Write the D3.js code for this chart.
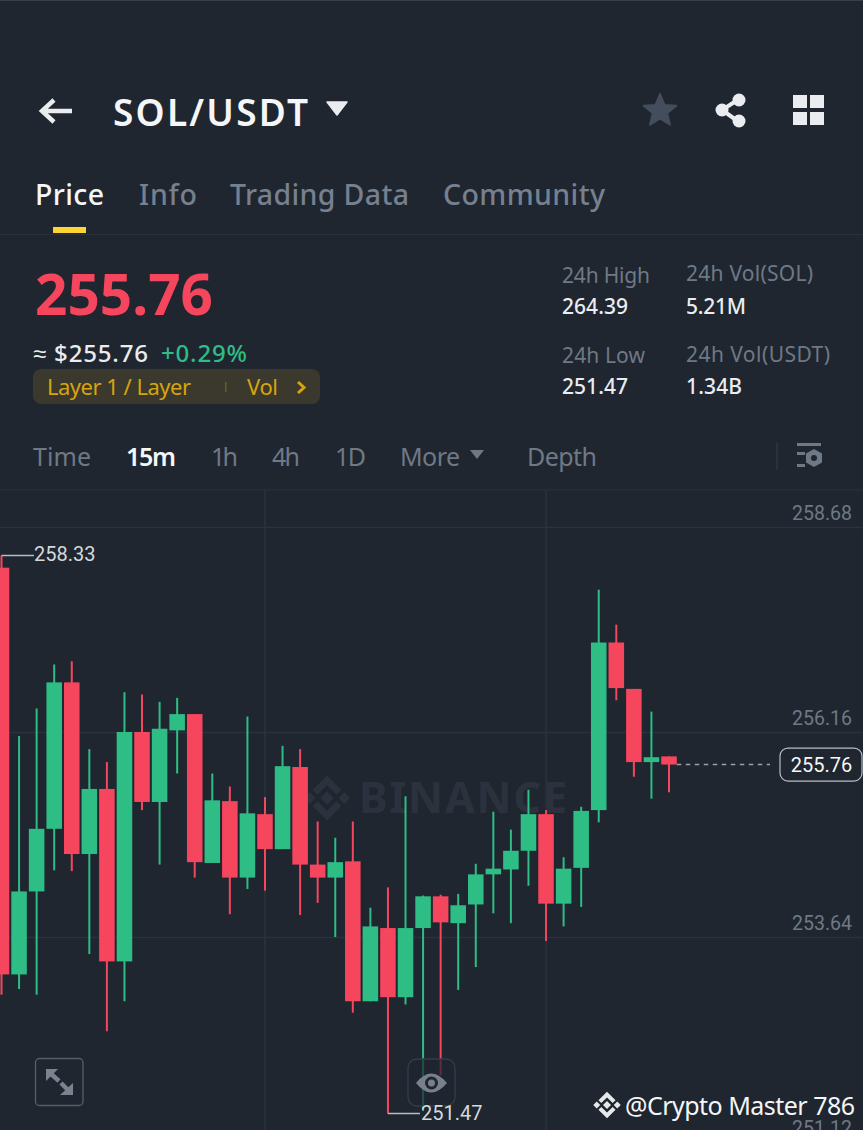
<!DOCTYPE html>
<html>
<head>
<meta charset="utf-8">
<script src="https://cdn.jsdelivr.net/npm/d3@7"></script>
<style>
  html, body { margin: 0; padding: 0; background: #1f2630; }
  svg { display: block; }
  text { font-family: "Noto Sans", sans-serif; }
  .num { font-family: Roboto, sans-serif; }
</style>
</head>
<body>
<div id="chart"></div>
<script>
// candles, left to right (15m)
const opens = [258.18, 253.18, 254.20, 254.97, 256.77, 254.66, 255.46, 253.34, 256.16, 255.30, 256.18, 256.38, 254.55, 255.31, 254.37, 255.15, 254.72, 255.73, 254.53, 254.37, 254.57, 252.85, 253.75, 252.90, 253.75, 254.14, 253.81, 254.04, 254.41, 254.47, 254.70, 255.15, 254.05, 254.49, 255.20, 257.26, 256.69, 255.79, 255.86];
const closes = [253.18, 254.20, 254.97, 256.77, 254.66, 255.46, 253.34, 256.16, 255.30, 256.20, 256.38, 254.56, 255.32, 254.37, 255.16, 254.72, 255.74, 254.53, 254.37, 254.56, 252.85, 253.77, 252.90, 253.75, 254.14, 253.82, 254.03, 254.41, 254.48, 254.70, 255.15, 254.05, 254.48, 255.19, 257.26, 256.70, 255.79, 255.85, 255.76];
const highs = [258.33, 256.11, 256.45, 256.99, 257.03, 255.95, 255.79, 256.65, 256.62, 256.53, 256.58, 256.38, 255.65, 255.49, 256.35, 255.36, 255.99, 255.95, 255.06, 254.86, 255.06, 254.00, 254.25, 255.37, 254.15, 254.16, 254.17, 254.54, 255.18, 254.96, 255.45, 255.20, 254.62, 255.24, 257.91, 257.48, 256.69, 256.41, 255.86];
const lows = [252.93, 253.00, 252.93, 254.46, 254.45, 253.43, 252.48, 252.85, 255.20, 254.53, 255.65, 254.37, 254.55, 253.92, 254.23, 254.21, 254.72, 253.91, 254.06, 253.64, 252.71, 252.85, 251.47, 252.81, 251.50, 251.94, 252.99, 253.27, 253.93, 253.81, 254.27, 253.59, 253.77, 254.01, 255.05, 256.55, 255.61, 255.34, 255.42];

const priceTicks = [258.68, 256.16, 253.64, 251.12];
const gridCandles = [15, 31];
const highPoint = { index: 0, price: 258.33 };
const lowPoint = { index: 22, price: 251.47 };
const lastPrice = 255.76;

const tabs = ["Price", "Info", "Trading Data", "Community"];
const intervals = ["Time", "15m", "1h", "4h", "1D", "More", "Depth"];
const statLabels = ["24h High", "24h Vol(SOL)", "24h Low", "24h Vol(USDT)"];
const statValues = ["264.39", "5.21M", "251.47", "1.34B"];

const W = 863, H = 1130;
const bg = "#1f2630", up = "#2ebd85", down = "#f6465d", gridColor = "#2b323d", grey = "#6f7986";

const svg = d3.select("#chart").append("svg").attr("width", W).attr("height", H);
svg.append("rect").attr("width", W).attr("height", H).attr("fill", bg);
svg.append("rect").attr("width", W).attr("height", 1).attr("fill", "#3a404b");

// len stretches the text to the width measured on the picture
function label(x, y, txt, size, fill, weight, cls, len) {
    const t = svg.append("text").attr("x", x).attr("y", y).text(txt)
        .attr("font-size", size).attr("fill", fill)
        .attr("font-weight", weight || 400).attr("class", cls || null);
    if (len) t.attr("textLength", len);
    return t;
}

// header
svg.append("path").attr("d", "M72 111H44M54 100L42 111L54 122").attr("fill", "none")
    .attr("stroke", "#eaecef").attr("stroke-width", 4.5);
label(113, 126, "SOL/USDT", 37, "#f5f6f7", 600, null, 195);
svg.append("path").attr("d", "M327 102H347L337 115Z").attr("fill", "#eaecef")
    .attr("stroke", "#eaecef").attr("stroke-width", 1.5).attr("stroke-linejoin", "round");

// star
const star = d3.range(10).map(i => {
    const r = i % 2 ? 7.5 : 17, a = -Math.PI / 2 + i * Math.PI / 5;
    return [660 + r * Math.cos(a), 111 + r * Math.sin(a)];
});
svg.append("path").attr("d", "M" + star.join("L") + "Z").attr("fill", "#434d5c")
    .attr("stroke", "#434d5c").attr("stroke-width", 2).attr("stroke-linejoin", "round");

// share
svg.append("path").attr("d", "M739 99L722 110L739 122").attr("fill", "none")
    .attr("stroke", "#eaecef").attr("stroke-width", 4);
[[739, 100], [722, 110], [739, 121]].forEach(p => {
    svg.append("circle").attr("cx", p[0]).attr("cy", p[1]).attr("r", 6.5).attr("fill", "#eaecef");
});

// grid icon
[[793, 95], [810, 95], [793, 112], [810, 112]].forEach(p => {
    svg.append("rect").attr("x", p[0]).attr("y", p[1]).attr("width", 14).attr("height", 13).attr("fill", "#eaecef");
});

// tabs
const tabX = [35, 139, 230, 443], tabLen = [69, 58, 179, 162];
tabs.forEach((t, i) => label(tabX[i], 205, t, 28.5, i === 0 ? "#f5f6f7" : "#76808f", 500, null, tabLen[i]));
svg.append("rect").attr("x", 53).attr("y", 227).attr("width", 33).attr("height", 6).attr("fill", "#fcd535");
svg.append("rect").attr("x", 0).attr("y", 234).attr("width", W).attr("height", 1).attr("fill", gridColor);

// price block
label(35, 315, "255.76", 58, down, 700).attr("textLength", 178).attr("lengthAdjust", "spacingAndGlyphs");
label(33, 362, "≈ $255.76", 24, "#eaecef", 500, null, 115);
label(161, 362, "+0.29%", 24, up, 500, null, 86);
svg.append("rect").attr("x", 33).attr("y", 369).attr("width", 287).attr("height", 35).attr("rx", 8).attr("fill", "#3b392d");
label(47, 395, "Layer 1 / Layer", 22, "#d6a50e", 400, null, 144);
svg.append("rect").attr("x", 225).attr("y", 382).attr("width", 1.5).attr("height", 10).attr("fill", "#6a5d23");
label(247, 395, "Vol", 22, "#d6a50e", 400, null, 31);
svg.append("path").attr("d", "M298 382L304 387.5L298 393").attr("fill", "none").attr("stroke", "#d6a50e").attr("stroke-width", 3);

// 24h stats
const statX = [562, 686, 562, 686], statLabelY = [283, 281, 363, 362], statValueY = [314, 314, 394, 394];
const statLabelLen = [88, 127, 83, 144], statValueLen = [66, 60, 66, 56];
statLabels.forEach((t, i) => label(statX[i], statLabelY[i], t, 21, grey, 400, null, statLabelLen[i]));
statValues.forEach((t, i) => label(statX[i], statValueY[i], t, 21, "#eaecef", 500, null, statValueLen[i]));

// interval bar
const intervalX = [33, 126, 211, 272, 335, 400, 527], intervalLen = [58, 50, 27, 28, 31, 60, 70];
intervals.forEach((t, i) => label(intervalX[i], 466, t, 25, i === 1 ? "#f5f6f7" : grey, i === 1 ? 600 : 400, null, intervalLen[i]));
svg.append("path").attr("d", "M470 450H484L477 459Z").attr("fill", grey);
svg.append("rect").attr("x", 776.5).attr("y", 443).attr("width", 1).attr("height", 27).attr("fill", "#363d49");
svg.append("path").attr("d", "M797 443H821V446H797ZM797 452H805V455H797ZM797 464H805V467H797Z").attr("fill", grey);
svg.append("path").attr("d", "M814 449L822 453.5V462.5L814 467L806 462.5V453.5Z").attr("fill", grey);
svg.append("circle").attr("cx", 814).attr("cy", 458).attr("r", 3).attr("fill", bg);
svg.append("rect").attr("x", 0).attr("y", 489.5).attr("width", W).attr("height", 1).attr("fill", gridColor);

// chart scales
const x = d3.scaleLinear().domain([0, opens.length - 1]).range([1.5, 669]);
const y = d3.scaleLinear().domain([priceTicks[0], priceTicks[3]]).range([527, 1142]);
const bodyWidth = (x(1) - x(0)) * 0.885;
const candles = opens.map((o, i) => ({ i: i, o: o, c: closes[i], h: highs[i], l: lows[i] }));

// grid + price axis
const axis = svg.append("g")
    .call(d3.axisRight(y).tickValues(priceTicks).tickSize(W).tickFormat(d3.format(".2f")));
axis.select(".domain").remove();
axis.selectAll(".tick line").attr("stroke", gridColor).attr("stroke-width", 1.5);
axis.selectAll(".tick text").attr("x", 852).attr("dy", "-0.39em").attr("text-anchor", "end")
    .attr("font-size", 19.5).attr("fill", grey).style("font-family", "Roboto, sans-serif");

svg.selectAll(".vgrid").data(gridCandles).enter().append("line").attr("class", "vgrid")
    .attr("x1", d => x(d)).attr("x2", d => x(d)).attr("y1", 490).attr("y2", H)
    .attr("stroke", gridColor).attr("stroke-width", 1.5);

// binance mark, half height is 14 * s
function drawLogo(g, s, fill) {
    [[0, 3], [-10.8, 2.6], [10.8, 2.6]].forEach(d => {
        g.append("rect").attr("x", (d[0] - d[1]) * s).attr("y", -d[1] * s)
            .attr("width", 2 * d[1] * s).attr("height", 2 * d[1] * s).attr("fill", fill)
            .attr("transform", `rotate(45 ${d[0] * s} 0)`);
    });
    [-1, 1].forEach(k => {
        const pts = [[-9, -5], [0, -14], [9, -5], [6, -2], [0, -8], [-6, -2]]
            .map(p => [p[0] * s, k * p[1] * s]);
        g.append("path").attr("d", "M" + pts.join("L") + "Z").attr("fill", fill);
    });
}

// watermark
drawLogo(svg.append("g").attr("transform", "translate(327,798)"), 1.6, "#2c323d");
label(359, 813, "BINANCE", 43, "#2c323d", 700, null, 208);

// candles
const g = svg.append("g");
g.selectAll(".wick").data(candles).enter().append("line").attr("class", "wick")
    .attr("x1", d => x(d.i)).attr("x2", d => x(d.i))
    .attr("y1", d => y(d.h)).attr("y2", d => y(d.l))
    .attr("stroke", d => d.c >= d.o ? up : down).attr("stroke-width", 2);
g.selectAll(".body").data(candles).enter().append("rect").attr("class", "body")
    .attr("x", d => x(d.i) - bodyWidth / 2).attr("width", bodyWidth)
    .attr("y", d => y(Math.max(d.o, d.c)))
    .attr("height", d => Math.max(1, Math.abs(y(d.o) - y(d.c))))
    .attr("fill", d => d.c >= d.o ? up : down);

// high / low callouts
const callout = "#b7bdc6";
svg.append("path").attr("d", `M${x(highPoint.index)} ${y(highPoint.price)}H34`).attr("fill", "none").attr("stroke", callout).attr("stroke-width", 1.5);
label(34, y(highPoint.price) + 6, d3.format(".2f")(highPoint.price), 20, "#d5d8dc", 400, "num");
svg.append("path").attr("d", `M${x(lowPoint.index)} ${y(lowPoint.price)}H420`).attr("fill", "none").attr("stroke", callout).attr("stroke-width", 1.5);

// last price
svg.append("line").attr("x1", x(opens.length - 1) + bodyWidth / 2).attr("x2", 770)
    .attr("y1", y(lastPrice)).attr("y2", y(lastPrice))
    .attr("stroke", "#9aa1ac").attr("stroke-width", 1.5).attr("stroke-dasharray", "4.5 4.5");
svg.append("rect").attr("x", 780).attr("y", y(lastPrice) - 16.5).attr("width", 82).attr("height", 33).attr("rx", 8)
    .attr("fill", bg).attr("stroke", "#b7bdc6").attr("stroke-width", 1.2);
label(821.5, y(lastPrice) + 7.5, d3.format(".2f")(lastPrice), 20, "#f5f6f7", 400, "num").attr("text-anchor", "middle");

// expand button
svg.append("rect").attr("x", 35.5).attr("y", 1058.5).attr("width", 47.5).attr("height", 47).attr("rx", 4)
    .attr("fill", "none").attr("stroke", "#565e6b").attr("stroke-width", 1.3);
svg.append("path").attr("d", "M46 1069H58L46 1081ZM73 1095H60L73 1083Z").attr("fill", "#7b8390");
svg.append("path").attr("d", "M50 1073L59 1081M69 1091L61 1083").attr("stroke", "#7b8390").attr("stroke-width", 4.5);

// eye button
svg.append("rect").attr("x", 408).attr("y", 1059).attr("width", 47).attr("height", 47).attr("rx", 9)
    .attr("fill", bg).attr("fill-opacity", 0.72).attr("stroke", "#363d49").attr("stroke-width", 1.3);
svg.append("path").attr("d", "M416 1083Q431 1064 447 1083Q431 1102 416 1083Z").attr("fill", "#78808d");
svg.append("circle").attr("cx", 431.5).attr("cy", 1083).attr("r", 6.5).attr("fill", bg);
svg.append("circle").attr("cx", 431.5).attr("cy", 1083).attr("r", 3.5).attr("fill", "#78808d");

label(421, y(lowPoint.price) + 6, d3.format(".2f")(lowPoint.price), 20, "#d5d8dc", 400, "num");

// bottom stamp
drawLogo(svg.append("g").attr("transform", "translate(607,1105)"), 0.95, "#e6e8ea");
label(625, 1115, "@Crypto Master 786", 25, "#f5f6f7", 400, null, 230);
</script>
</body>
</html>
